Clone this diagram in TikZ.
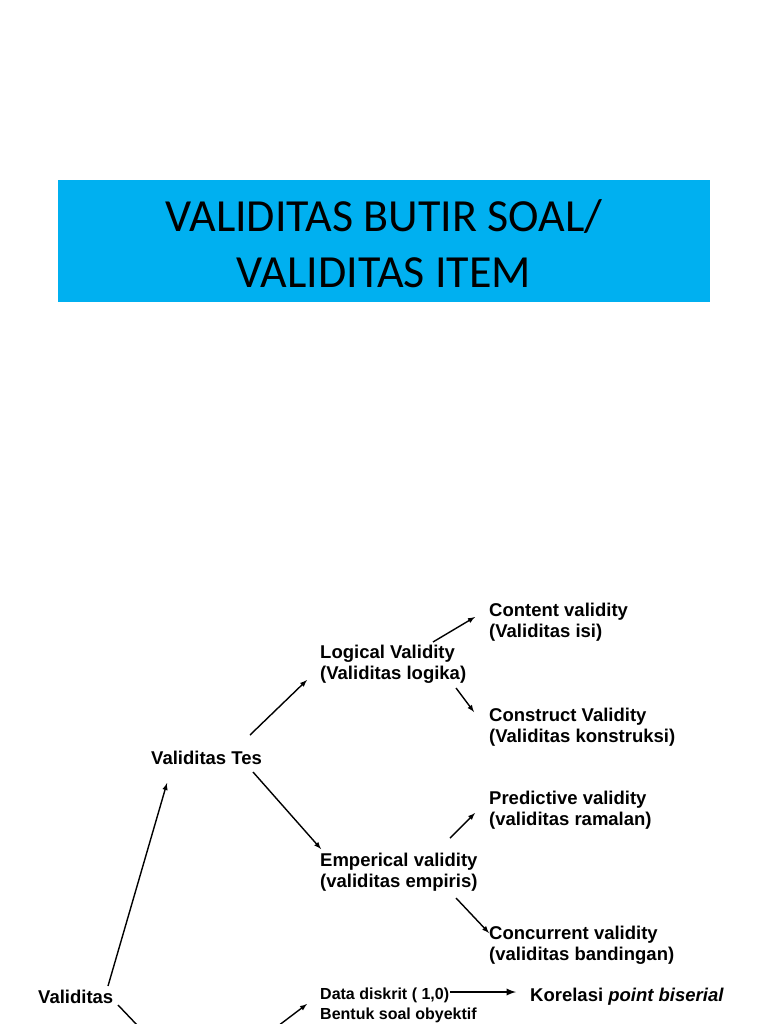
\documentclass[tikz,border=0pt]{standalone}
\usepackage{fontspec}
\setmainfont{Liberation Sans}
\newfontfamily\titlefont{Carlito}
\begin{document}
\begin{tikzpicture}[x=1pt,y=-1pt,
  lbl/.style={anchor=west,inner sep=0pt,font=\fontsize{18.5}{21.5}\selectfont\bfseries,align=left},
  arr/.style={-latex,line width=1.4pt}]
\useasboundingbox (0,0) rectangle (768,1024);
\clip (0,0) rectangle (768,1024);
\fill[fill={rgb,255:red,0;green,176;blue,240}] (58,180) rectangle (710,302);
\node[align=center,font=\titlefont\fontsize{46}{56}\selectfont] (title) at (384,244) {VALIDITAS BUTIR SOAL/\\VALIDITAS ITEM};
\node[lbl] (cv) at (489,622) {Content validity\\(Validitas isi)};
\node[lbl] (lv) at (320,664) {Logical Validity\\(Validitas logika)};
\node[lbl] (kv) at (489,727) {Construct Validity\\(Validitas konstruksi)};
\node[lbl] (vt) at (151,758) {Validitas Tes};
\node[lbl] (pv) at (489,810) {Predictive validity\\(validitas ramalan)};
\node[lbl] (ev) at (320,872) {Emperical validity\\(validitas empiris)};
\node[lbl] (ccv) at (489,945) {Concurrent validity\\(validitas bandingan)};
\node[lbl] (v) at (38,997) {Validitas};
\node[lbl,font=\fontsize{16}{20}\selectfont\bfseries] (dd) at (320,1005) {Data diskrit ( 1,0)\\Bentuk soal obyektif};
\node[lbl] (kp) at (530,997) {Korelasi \textit{point biserial}};
\coordinate (a1) at (250,735); \coordinate (b1) at (307,680);
\coordinate (a2) at (433,642); \coordinate (b2) at (475,617);
\coordinate (a3) at (456,688); \coordinate (b3) at (474,712);
\coordinate (a4) at (253,772); \coordinate (b4) at (321,849);
\coordinate (a5) at (450,838); \coordinate (b5) at (475,813);
\coordinate (a6) at (456,898); \coordinate (b6) at (489,933);
\coordinate (a7) at (108,986); \coordinate (b7) at (167,783);
\coordinate (a8) at (450,992); \coordinate (b8) at (516,992);
\coordinate (a9) at (118,1005); \coordinate (b9) at (138,1026);
\coordinate (a10) at (278,1026); \coordinate (b10) at (307,1004);
\draw[arr] (a1) -- (b1);
\draw[arr] (a2) -- (b2);
\draw[arr] (a3) -- (b3);
\draw[arr] (a4) -- (b4);
\draw[arr] (a5) -- (b5);
\draw[arr] (a6) -- (b6);
\draw[arr] (a7) -- (b7);
\draw[arr,line width=2.2pt] (a8) -- (b8);
\draw[line width=1.4pt] (a9) -- (b9);
\draw[arr] (a10) -- (b10);
\end{tikzpicture}
\end{document}
